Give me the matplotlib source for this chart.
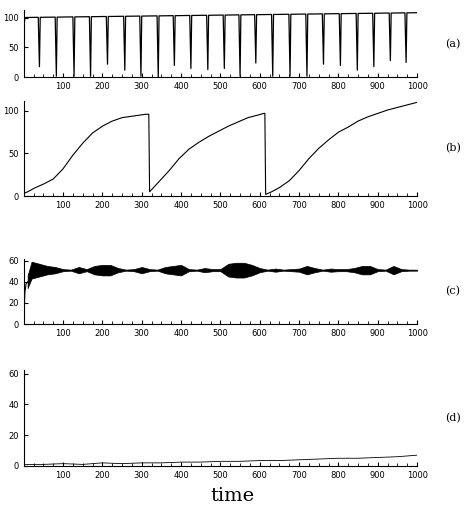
import matplotlib
matplotlib.use("Agg")
import matplotlib.pyplot as plt
import numpy as np

# (a) dips: times, depths, plateau level
dip_t = [40, 83, 128, 170, 213, 257, 298, 342, 383, 425, 468, 510, 550, 590, 633, 677, 720, 762, 805, 848, 890, 932, 972]
dip_v = [18, 2, 2, 2, 22, 12, 2, 0, 20, 15, 13, 15, 2, 24, 2, 2, 2, 22, 20, 12, 18, 28, 25]
plat_t = [0, 250, 500, 750, 1000]
plat_v = [100, 102, 104, 106, 108]

# (b) ramp series
b_t = [0, 10, 30, 50, 75, 100, 125, 150, 175, 200, 225, 250, 280, 310, 318, 320, 340, 370, 395, 420, 445, 470, 495, 520, 545, 570, 595, 610, 613, 615, 630, 650, 675, 700, 725, 750, 775, 800, 825, 850, 875, 900, 925, 950, 975, 1000]
b_v = [3, 5, 10, 14, 20, 32, 48, 62, 74, 82, 88, 92, 94, 96, 96, 5, 15, 30, 44, 55, 63, 70, 76, 82, 87, 92, 95, 97, 97, 2, 5, 10, 18, 30, 44, 56, 66, 75, 81, 88, 93, 97, 101, 104, 107, 110]

# (c) envelope (half-width around mean)
c_t = [10, 20, 40, 60, 80, 100, 120, 140, 160, 180, 200, 220, 240, 260, 280, 300, 320, 340, 360, 380, 400, 420, 440, 460, 480, 500, 520, 540, 560, 580, 600, 620, 640, 660, 680, 700, 720, 740, 760, 780, 800, 820, 840, 860, 880, 900, 920, 940, 960, 980, 1000]
c_m = [40, 51, 51, 51, 51, 51, 51, 51, 51, 51, 51, 51, 51, 51, 51, 51, 51, 51, 51, 51, 51, 51, 51, 51, 51, 51, 51, 51, 51, 51, 51, 51, 51, 51, 51, 51, 51, 51, 51, 51, 51, 51, 51, 51, 51, 51, 51, 51, 51, 51, 51]
c_h = [6, 8, 6, 4, 3, 1, 0.5, 3, 1, 4, 5, 5, 2, 0.5, 1, 3, 1, 0.5, 3, 4, 5, 1, 0.5, 2, 1, 1, 6, 7, 7, 5, 2, 0.5, 1.5, 0.5, 1, 1.5, 4, 2, 0.5, 1.5, 1, 1, 2, 4, 4, 1, 0.5, 4, 1, 0.5, 0.5]

# (d)
d_t = [0, 50, 100, 150, 200, 250, 300, 350, 400, 450, 500, 550, 600, 650, 700, 750, 800, 850, 900, 950, 1000]
d_v = [1, 1, 1.5, 1, 2, 1.5, 2, 2, 2.5, 2.5, 3, 3, 3.5, 3.5, 4, 4.5, 5, 5, 5.5, 6, 7]

fig = plt.figure(figsize=(4.74, 5.16), dpi=100)
L, W = 0.05, 0.83
rects = [(L, 0.85, W, 0.13), (L, 0.62, W, 0.185), (L, 0.372, W, 0.127), (L, 0.097, W, 0.185)]
labels = ['(a)', '(b)', '(c)', '(d)']
axes = [fig.add_axes(r) for r in rects]

# build (a) series
ta, va = [0, 3], [80, 100]
for t, d in zip(dip_t, dip_v):
    p = np.interp(t, plat_t, plat_v)
    ta += [t - 3, t, t + 2]
    va += [p, d, p]
ta.append(1000); va.append(np.interp(1000, plat_t, plat_v))
axes[0].plot(ta, va, color='black', lw=0.9)
axes[0].set_ylim(0, 112); axes[0].set_yticks([0, 50, 100])

axes[1].plot(b_t, b_v, color='black', lw=0.8)
axes[1].set_ylim(0, 112); axes[1].set_yticks([0, 50, 100])

ct = np.array(c_t); cm = np.array(c_m); ch = np.array(c_h)
axes[2].fill_between(ct, cm - ch, cm + ch, color='black', lw=0.5)
axes[2].plot([0, 3, 6, 10], [0, 30, 38, 40], color='black', lw=0.8)
axes[2].set_ylim(0, 62); axes[2].set_yticks([0, 20, 40, 60])

axes[3].plot(d_t, d_v, color='black', lw=0.6)
axes[3].set_ylim(0, 62); axes[3].set_yticks([0, 20, 40, 60])

for ax, lab in zip(axes, labels):
    ax.set_xlim(0, 1000)
    ax.set_xticks(range(100, 1001, 100))
    ax.set_xticks(range(0, 1001, 25), minor=True)
    ax.spines['top'].set_visible(False)
    ax.spines['right'].set_visible(False)
    ax.tick_params(labelsize=6, length=3, direction='in')
    ax.tick_params(which='minor', length=2, direction='in')
    ax.text(1.07, 0.5, lab, transform=ax.transAxes, fontsize=8, family='serif', va='center')

fig.text(0.49, 0.03, 'time', fontsize=14, family='serif', ha='center')
fig.savefig('out.png', dpi=100)
